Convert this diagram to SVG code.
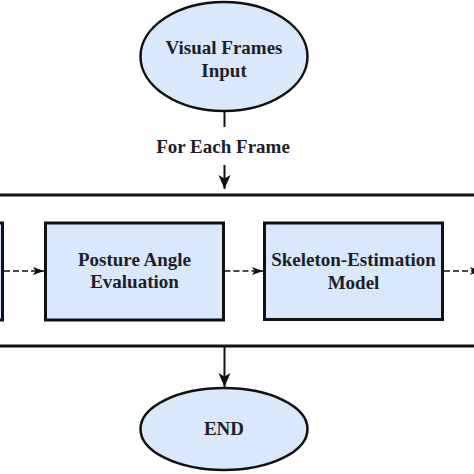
<svg xmlns="http://www.w3.org/2000/svg" width="474" height="474" viewBox="0 0 474 474">
  <style>
    .node { fill: #dae8fc; stroke: #111111; stroke-width: 3; }
    .ell { fill: #dae8fc; stroke: #111111; stroke-width: 2.5; }
    .txt { font-family: "Liberation Serif", "Times New Roman", serif; font-weight: bold; font-size: 19px; fill: #1e1e2a; text-anchor: middle; }
    .solid { fill: none; stroke: #111111; stroke-width: 2; }
    .dash { fill: none; stroke: #111111; stroke-width: 1.5; stroke-dasharray: 6 3; }
  </style>
  <defs>
    <marker id="arrowBig" markerUnits="userSpaceOnUse" markerWidth="14" markerHeight="14" viewBox="0 0 14 14" refX="14" refY="7" orient="auto">
      <path d="M0,1 L14,7 L0,13 L3.5,7 Z" fill="#111111"/>
    </marker>
    <marker id="arrowSmall" markerUnits="userSpaceOnUse" markerWidth="11" markerHeight="10" viewBox="0 0 11 10" refX="11" refY="5" orient="auto">
      <path d="M0,1 L11,5 L0,9 L2.5,5 Z" fill="#111111"/>
    </marker>
  </defs>
  <rect x="0" y="0" width="474" height="474" fill="#ffffff"/>

  <g id="container">
    <rect x="-10" y="195" width="494" height="151" fill="none" stroke="#111111" stroke-width="3"/>
  </g>

  <g id="connectors">
    <line class="solid" x1="224.5" y1="111" x2="224.5" y2="127"/>
    <line class="solid" x1="224.5" y1="165" x2="224.5" y2="189" marker-end="url(#arrowBig)"/>
    <line class="solid" x1="224.5" y1="346" x2="224.5" y2="387" marker-end="url(#arrowBig)"/>
    <line class="dash" x1="4" y1="271" x2="44" y2="271" marker-end="url(#arrowSmall)"/>
    <line class="dash" x1="224.5" y1="271" x2="263" y2="271" marker-end="url(#arrowSmall)"/>
    <line class="dash" x1="444" y1="271" x2="481" y2="271" marker-end="url(#arrowSmall)"/>
  </g>

  <g id="input">
    <ellipse class="ell" cx="224" cy="56.5" rx="83.5" ry="54.5"/>
    <text class="txt" x="224" y="54">Visual Frames</text>
    <text class="txt" x="224" y="77">Input</text>
  </g>

  <g id="for-each-label">
    <text class="txt" x="223" y="153">For Each Frame</text>
  </g>

  <g id="prev-step">
    <rect class="node" x="-100" y="223" width="102.5" height="97"/>
  </g>

  <g id="posture">
    <rect class="node" x="45.5" y="223" width="178" height="97"/>
    <text class="txt" x="134.5" y="265.5">Posture Angle</text>
    <text class="txt" x="134.5" y="288">Evaluation</text>
  </g>

  <g id="skeleton">
    <rect class="node" x="264.5" y="223" width="178" height="96.5"/>
    <text class="txt" x="353.5" y="265.5">Skeleton-Estimation</text>
    <text class="txt" x="353.5" y="289">Model</text>
  </g>

  <g id="end">
    <ellipse class="ell" cx="224" cy="429" rx="83.5" ry="41"/>
    <text class="txt" x="224" y="435">END</text>
  </g>
</svg>
